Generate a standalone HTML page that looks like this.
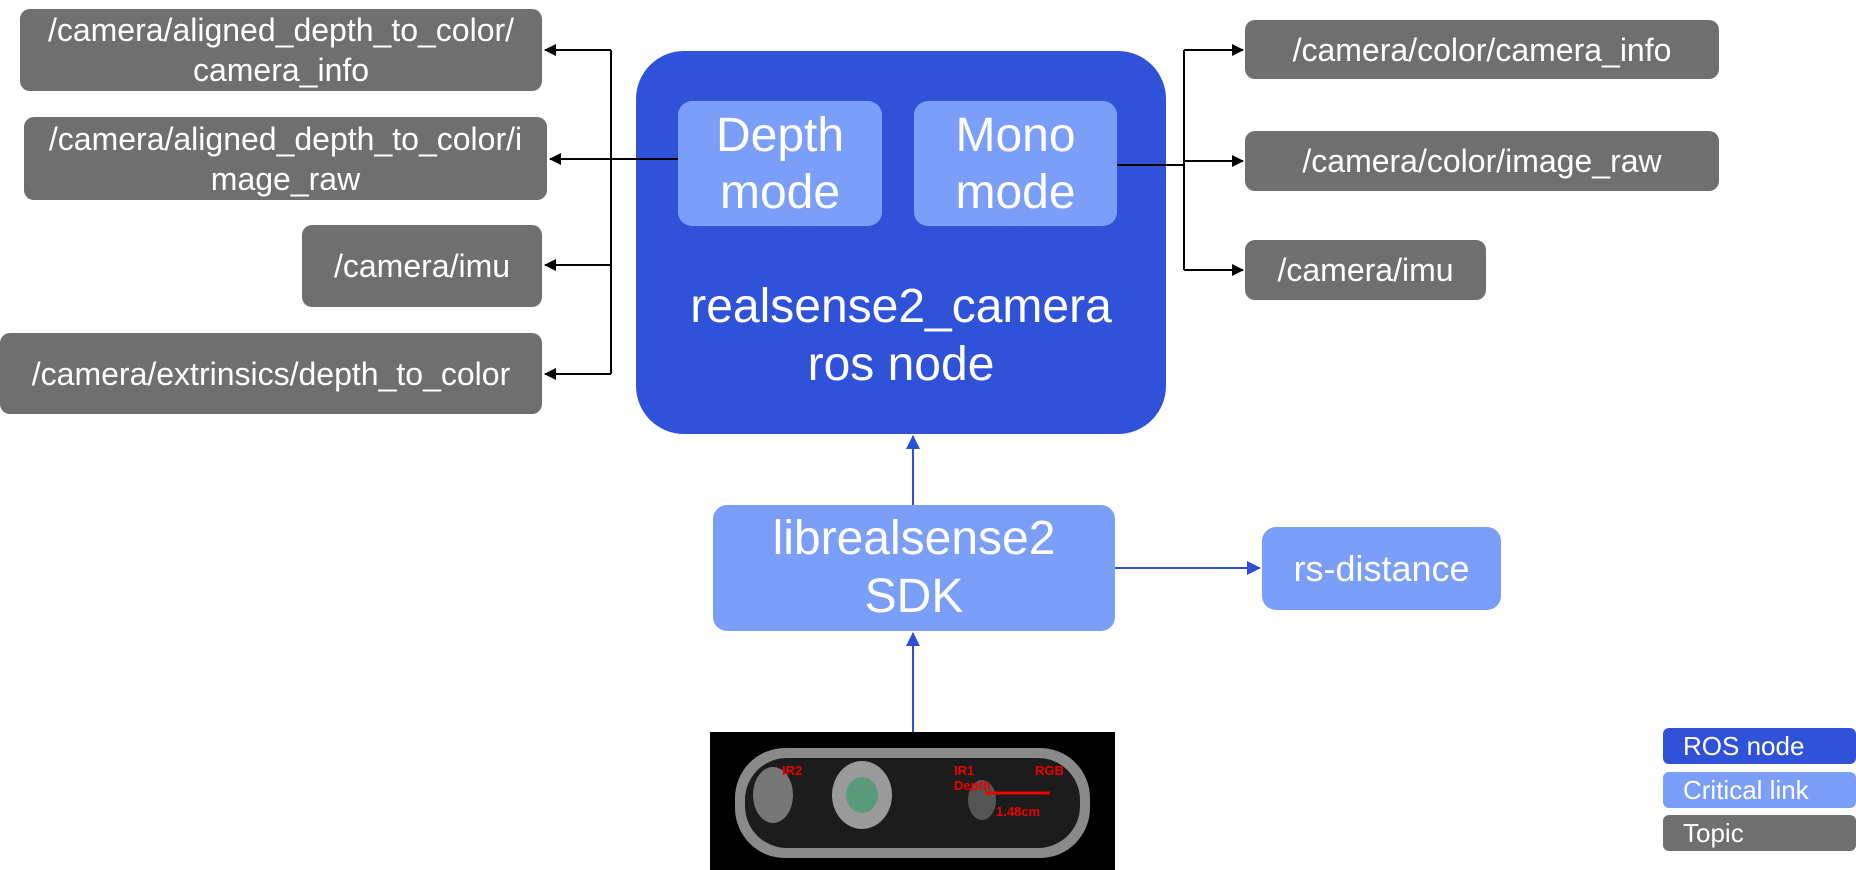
<!DOCTYPE html>
<html><head><style>
body{margin:0;width:1856px;height:870px;background:#fff;position:relative;overflow:hidden;font-family:"Liberation Sans",sans-serif;}
.b{position:absolute;display:flex;align-items:center;justify-content:center;text-align:center;color:#fff;box-sizing:border-box;white-space:nowrap;}
.t{background:#6f6f6f;border-radius:10px;font-size:32px;line-height:40px;}
.l{background:#7b9ef9;border-radius:14px;}
.n{background:#3052d9;}
</style></head><body>
<div class="b t" style="left:20px;top:9px;width:522px;height:82px">/camera/aligned_depth_to_color/<br>camera_info</div>
<div class="b t" style="left:24px;top:117px;width:523px;height:83px">/camera/aligned_depth_to_color/i<br>mage_raw</div>
<div class="b t" style="left:302px;top:225px;width:240px;height:82px">/camera/imu</div>
<div class="b t" style="left:0px;top:333px;width:542px;height:81px">/camera/extrinsics/depth_to_color</div>
<div class="b n" style="left:636px;top:51px;width:530px;height:383px;border-radius:48px;font-size:48px;line-height:58px;padding-top:186px">realsense2_camera<br>ros node</div>
<div class="b l" style="left:678px;top:101px;width:204px;height:125px;font-size:48px;line-height:57px">Depth<br>mode</div>
<div class="b l" style="left:914px;top:101px;width:203px;height:125px;font-size:48px;line-height:57px">Mono<br>mode</div>
<div class="b t" style="left:1245px;top:20px;width:474px;height:59px">/camera/color/camera_info</div>
<div class="b t" style="left:1245px;top:131px;width:474px;height:60px">/camera/color/image_raw</div>
<div class="b t" style="left:1245px;top:240px;width:241px;height:60px">/camera/imu</div>
<div class="b l" style="left:713px;top:505px;width:402px;height:126px;font-size:48px;line-height:58px">librealsense2<br>SDK</div>
<div class="b l" style="left:1262px;top:527px;width:239px;height:83px;font-size:36px">rs-distance</div>
<div class="b n" style="left:1663px;top:728px;width:193px;height:36px;font-size:26px;justify-content:flex-start;padding-left:20px;border-radius:6px">ROS node</div>
<div class="b l" style="left:1663px;top:772px;width:193px;height:36px;font-size:26px;justify-content:flex-start;padding-left:20px;border-radius:6px">Critical link</div>
<div class="b t" style="left:1663px;top:815px;width:193px;height:36px;font-size:26px;justify-content:flex-start;padding-left:20px;border-radius:6px">Topic</div>
<svg width="1856" height="870" style="position:absolute;left:0;top:0">
<defs>
<marker id="k" markerWidth="12" markerHeight="12" refX="11" refY="6" orient="auto" markerUnits="userSpaceOnUse"><path d="M0,0L12,6L0,12z" fill="#000"/></marker>
<marker id="bl" markerWidth="14" markerHeight="14" refX="13" refY="7" orient="auto" markerUnits="userSpaceOnUse"><path d="M0,0L14,7L0,14z" fill="#2f4fd6"/></marker>
</defs>
<g stroke="#000" stroke-width="2" fill="none">
<path d="M678,159H611"/><path d="M611,50V374"/>
<path d="M611,50H545" marker-end="url(#k)"/><path d="M611,159H550" marker-end="url(#k)"/>
<path d="M611,265H545" marker-end="url(#k)"/><path d="M611,374H545" marker-end="url(#k)"/>
<path d="M1117,165H1184"/><path d="M1184,50V270"/>
<path d="M1184,50H1243" marker-end="url(#k)"/><path d="M1184,161H1243" marker-end="url(#k)"/><path d="M1184,270H1243" marker-end="url(#k)"/>
</g>
<g stroke="#2f4fd6" stroke-width="2" fill="none">
<path d="M913,505V436" marker-end="url(#bl)"/>
<path d="M913,732V633" marker-end="url(#bl)"/>
<path d="M1115,568H1260" marker-end="url(#bl)"/>
</g>
<rect x="710" y="732" width="405" height="138" fill="#000"/>
<rect x="735" y="748" width="355" height="110" rx="50" fill="#8a8a8a"/>
<rect x="745" y="758" width="335" height="90" rx="42" fill="#1c1c1c"/>
<ellipse cx="773" cy="795" rx="20" ry="28" fill="#777"/>
<ellipse cx="862" cy="795" rx="30" ry="34" fill="#9a9a9a"/>
<ellipse cx="862" cy="795" rx="16" ry="18" fill="#5a9a7a"/>
<ellipse cx="982" cy="800" rx="14" ry="20" fill="#555"/>
<path d="M985,793H1050" stroke="#e00" stroke-width="3"/>
<g fill="#e00" font-size="13" font-weight="bold" font-family="Liberation Sans,sans-serif">
<text x="782" y="775">IR2</text><text x="954" y="775">IR1</text><text x="1035" y="775">RGB</text><text x="954" y="790">Depth</text><text x="996" y="816">1.48cm</text></g>
</svg>
</body></html>
